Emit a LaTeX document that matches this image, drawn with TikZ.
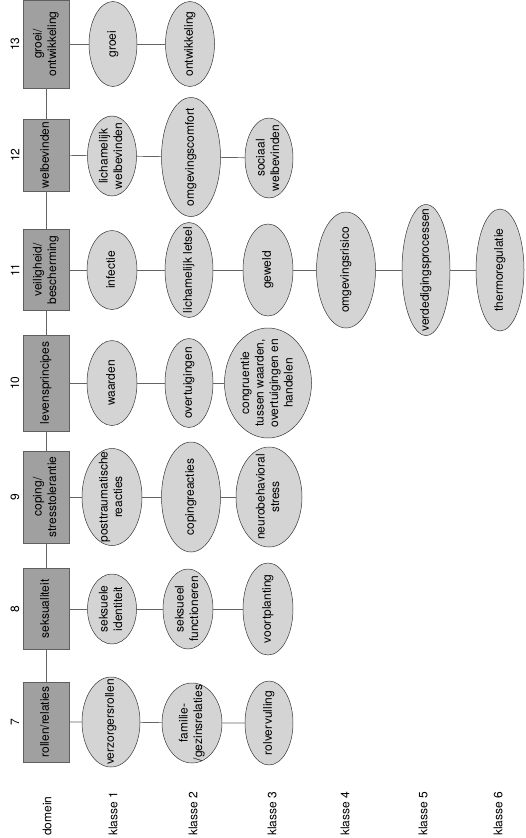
\documentclass[tikz,border=0pt]{standalone}
\usepackage{fontspec}
\setmainfont{TeX Gyre Heros}
\usetikzlibrary{shapes.geometric}
\definecolor{boxfill}{RGB}{160,160,160}
\definecolor{boxdraw}{RGB}{95,95,95}
\definecolor{ellfill}{RGB}{212,212,212}
\definecolor{elldraw}{RGB}{55,55,55}
\definecolor{linkcol}{RGB}{100,100,100}
\newcommand{\zt}[1]{\makebox[0pt]{\begin{tabular}{@{}c@{}}#1\end{tabular}}}
\begin{document}
\begin{tikzpicture}[x=1pt,y=-1pt,
  every node/.style={font=\fontsize{12}{14.5}\selectfont},
  dombox/.style={rectangle,draw=boxdraw,fill=boxfill,rotate=90,inner sep=0pt,minimum height=46pt,line width=0.6pt},
  ell/.style={ellipse,draw=elldraw,fill=ellfill,rotate=90,inner sep=0pt,line width=0.5pt},
  nummer/.style={rotate=90,inner sep=0pt},
  lab/.style={rotate=90,anchor=west,inner sep=0pt},
  link/.style={draw=linkcol,line width=0.7pt}]
\useasboundingbox (0,0) rectangle (525,838);

% domain boxes
\node[dombox,minimum width=88pt] (d13) at (46,44) {\zt{groei/\\ontwikkeling}};
\node[dombox,minimum width=72pt] (d12) at (46,155) {\zt{welbevinden}};
\node[dombox,minimum width=81pt] (d11) at (46,270) {\zt{veiligheid/\\bescherming}};
\node[dombox,minimum width=96pt] (d10) at (46,383) {\zt{levensprincipes}};
\node[dombox,minimum width=92pt] (d9) at (46,497) {\zt{coping/\\stresstolerantie}};
\node[dombox,minimum width=81pt] (d8) at (46,609) {\zt{seksualiteit}};
\node[dombox,minimum width=80pt] (d7) at (46,722) {\zt{rollen/relaties}};

% numbers
\node[nummer] (n13) at (15,44) {13};
\node[nummer] (n12) at (15,155) {12};
\node[nummer] (n11) at (15,270) {11};
\node[nummer] (n10) at (15,383) {10};
\node[nummer] (n9) at (15,497) {9};
\node[nummer] (n8) at (15,609) {8};
\node[nummer] (n7) at (15,722) {7};

% row 13
\node[ell,minimum width=85pt,minimum height=48pt] (e131) at (113,44) {\zt{groei}};
\node[ell,minimum width=85pt,minimum height=49pt] (e132) at (190,44) {\zt{ontwikkeling}};
% row 12
\node[ell,minimum width=80pt,minimum height=49pt] (e121) at (112,156) {\zt{lichamelijk\\welbevinden}};
\node[ell,minimum width=119pt,minimum height=59pt] (e122) at (191,157) {\zt{omgevingscomfort}};
\node[ell,minimum width=80pt,minimum height=48pt] (e123) at (269,158) {\zt{sociaal\\welbevinden}};
% row 11
\node[ell,minimum width=79pt,minimum height=50pt] (e111) at (112,270) {\zt{infectie}};
\node[ell,minimum width=95pt,minimum height=48pt] (e112) at (189,270) {\zt{lichamelijk letsel}};
\node[ell,minimum width=92pt,minimum height=50pt] (e113) at (268,270) {\zt{geweld}};
\node[ell,minimum width=116pt,minimum height=59pt] (e114) at (346,270) {\zt{omgevingsrisico}};
\node[ell,minimum width=131pt,minimum height=48pt] (e115) at (426,270) {\zt{verdedigingsprocessen}};
\node[ell,minimum width=122pt,minimum height=48pt] (e116) at (500,270) {\zt{thermoregulatie}};
% row 10
\node[ell,minimum width=85pt,minimum height=50pt] (e101) at (112,383) {\zt{waarden}};
\node[ell,minimum width=89pt,minimum height=48pt] (e102) at (189,383) {\zt{overtuigingen}};
\node[ell,minimum width=110pt,minimum height=87pt] (e103) at (268,383) {\zt{congruentie\\tussen waarden,\\overtuigingen en\\handelen}};
% row 9
\node[ell,minimum width=97pt,minimum height=60pt] (e91) at (112,497) {\zt{posttraumatische\\reacties}};
\node[ell,minimum width=110pt,minimum height=59pt] (e92) at (191,497) {\zt{copingreacties}};
\node[ell,minimum width=100pt,minimum height=66pt] (e93) at (269,497) {\zt{neurobehavioral\\stress}};
% row 8
\node[ell,minimum width=70pt,minimum height=49pt] (e81) at (112,609) {\zt{seksuele\\identiteit}};
\node[ell,minimum width=80pt,minimum height=50pt] (e82) at (188,609) {\zt{seksueel\\functioneren}};
\node[ell,minimum width=92pt,minimum height=50pt] (e83) at (268,609) {\zt{voortplanting}};
% row 7
\node[ell,minimum width=90pt,minimum height=58pt] (e71) at (111,722) {\zt{verzorgersrollen}};
\node[ell,minimum width=80pt,minimum height=60pt] (e72) at (192,723) {\zt{familie-\\/gezinsrelaties}};
\node[ell,minimum width=84pt,minimum height=48pt] (e73) at (269,723) {\zt{rolvervulling}};

% connectors
\draw[link] (d13) -- (d12) -- (d11) -- (d10) -- (d9) -- (d8) -- (d7);
\draw[link] (d13) -- (e131) -- (e132);
\draw[link] (d12) -- (e121) -- (e122) -- (e123);
\draw[link] (d11) -- (e111) -- (e112) -- (e113) -- (e114) -- (e115) -- (e116);
\draw[link] (d10) -- (e101) -- (e102) -- (e103);
\draw[link] (d9) -- (e91) -- (e92) -- (e93);
\draw[link] (d8) -- (e81) -- (e82) -- (e83);
\draw[link] (d7) -- (e71) -- (e72) -- (e73);

% column labels
\node[lab] (l0) at (47,836) {domein};
\node[lab] (l1) at (113,836) {klasse 1};
\node[lab] (l2) at (193,836) {klasse 2};
\node[lab] (l3) at (272,836) {klasse 3};
\node[lab] (l4) at (345,836) {klasse 4};
\node[lab] (l5) at (423,836) {klasse 5};
\node[lab] (l6) at (498,836) {klasse 6};
\end{tikzpicture}
\end{document}
